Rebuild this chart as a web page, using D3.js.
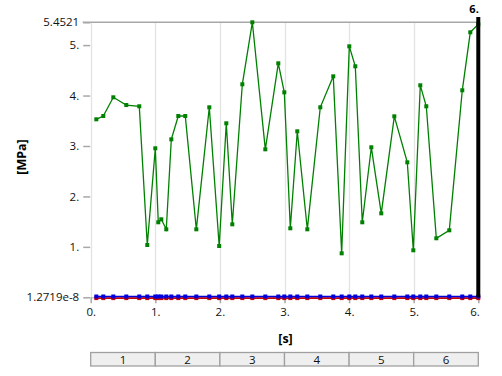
<!DOCTYPE html>
<html>
<head>
<meta charset="utf-8">
<script src="https://cdn.jsdelivr.net/npm/d3@7"></script>
<style>
  body { margin: 0; background: #fff; }
  svg { display: block; font-family: "Open Sans", "Noto Sans", sans-serif; }
</style>
</head>
<body>
<div id="chart"></div>
<script>
(function () {
    // time steps [s]
    const timeVals = [0.087, 0.195, 0.350, 0.551, 0.752, 0.876, 1.000, 1.046, 1.093, 1.170,
        1.248, 1.356, 1.464, 1.635, 1.836, 1.989, 2.099, 2.192, 2.347, 2.502,
        2.703, 2.904, 2.997, 3.090, 3.198, 3.353, 3.554, 3.755, 3.885, 4.003,
        4.096, 4.204, 4.344, 4.498, 4.700, 4.901, 4.994, 5.102, 5.195, 5.350,
        5.551, 5.752, 5.876, 6.000];

    // green series [MPa]
    const greenVals = [3.529, 3.594, 3.965, 3.812, 3.787, 1.037, 2.954, 1.487, 1.546, 1.348,
        3.132, 3.594, 3.594, 1.348, 3.767, 1.017, 3.450, 1.447, 4.223, 5.4521,
        2.934, 4.639, 4.064, 1.368, 3.291, 1.348, 3.767, 4.381, 0.872, 4.976,
        4.580, 1.487, 2.974, 1.665, 3.588, 2.676, 0.932, 4.203, 3.787, 1.170,
        1.328, 4.104, 5.254, 5.412];

    // blue / red series (essentially zero)
    const blueVals = [1.2719e-8, 1.2719e-8, 1.2719e-8, 1.2719e-8, 1.2719e-8, 1.2719e-8, 1.2719e-8, 1.2719e-8, 1.2719e-8, 1.2719e-8,
        1.2719e-8, 1.2719e-8, 1.2719e-8, 1.2719e-8, 1.2719e-8, 1.2719e-8, 1.2719e-8, 1.2719e-8, 1.2719e-8, 1.2719e-8,
        1.2719e-8, 1.2719e-8, 1.2719e-8, 1.2719e-8, 1.2719e-8, 1.2719e-8, 1.2719e-8, 1.2719e-8, 1.2719e-8, 1.2719e-8,
        1.2719e-8, 1.2719e-8, 1.2719e-8, 1.2719e-8, 1.2719e-8, 1.2719e-8, 1.2719e-8, 1.2719e-8, 1.2719e-8, 1.2719e-8,
        1.2719e-8, 1.2719e-8, 1.2719e-8, 1.2719e-8];
    const redVals = [0, 0, 0, 0, 0, 0, 0, 0, 0, 0,
        0, 0, 0, 0, 0, 0, 0, 0, 0, 0,
        0, 0, 0, 0, 0, 0, 0, 0, 0, 0,
        0, 0, 0, 0, 0, 0, 0, 0, 0, 0,
        0, 0, 0, 0];

    // axis ticks
    const xTicks = [0, 1, 2, 3, 4, 5, 6];
    const xTickLabels = ["0.", "1.", "2.", "3.", "4.", "5.", "6."];
    const yTicks = [0, 1, 2, 3, 4, 5, 5.4521];
    const yTickLabels = ["1.2719e-8", "1.", "2.", "3.", "4.", "5.", "5.4521"];
    const stepLabels = ["1", "2", "3", "4", "5", "6"];
    const cursorTime = 6;

    const W = 502, H = 376;
    const plot = { left: 90.7, right: 478.3, top: 22.3, bottom: 297.3 };

    const svg = d3.select("#chart").append("svg")
        .attr("width", W)
        .attr("height", H);

    const x = d3.scaleLinear().domain([0, 6]).range([plot.left, plot.right]);
    const y = d3.scaleLinear().domain([0, 5.4521]).range([plot.bottom, plot.top]);

    // vertical gridlines
    svg.append("g").selectAll("line")
        .data(xTicks.slice(0, -1))
        .enter().append("line")
        .attr("x1", d => Math.round(x(d)) + 0.5).attr("x2", d => Math.round(x(d)) + 0.5)
        .attr("y1", y(5.4521)).attr("y2", plot.bottom)
        .attr("stroke", "#e3e3e3").attr("stroke-width", 1.3);

    // top (max) line
    svg.append("line")
        .attr("x1", plot.left - 8).attr("x2", plot.right)
        .attr("y1", y(5.4521)).attr("y2", y(5.4521))
        .attr("stroke", "#a8a8a8").attr("stroke-width", 1.5);

    // y axis
    const yAxis = svg.append("g")
        .attr("transform", `translate(${plot.left - 0.5},0)`)
        .call(d3.axisLeft(y)
            .tickValues(yTicks)
            .tickFormat((d, i) => yTickLabels[i])
            .tickSize(7)
            .tickPadding(4));
    yAxis.select(".domain").remove();
    yAxis.selectAll(".tick line").attr("stroke", "#a8a8a8").attr("stroke-width", 1.5);
    yAxis.selectAll(".tick text")
        .attr("fill", "#111")
        .style("font-size", "11.5px")
        .style("font-family", "'Open Sans', sans-serif");

    // x axis
    const xAxis = svg.append("g")
        .attr("transform", `translate(0,${plot.bottom})`)
        .call(d3.axisBottom(x)
            .tickValues(xTicks)
            .tickFormat((d, i) => xTickLabels[i])
            .tickSize(6)
            .tickSizeOuter(0)
            .tickPadding(5));
    xAxis.select(".domain").attr("stroke", "#a8a8a8");
    xAxis.selectAll(".tick line").attr("stroke", "#a8a8a8").attr("stroke-width", 1.5);
    xAxis.selectAll(".tick text")
        .attr("fill", "#111")
        .style("font-size", "11.5px")
        .style("font-family", "'Open Sans', sans-serif");
    xAxis.selectAll(".tick text")
        .filter(d => d === 6)
        .attr("text-anchor", "end")
        .attr("dx", 1);

    // axis titles
    svg.append("text")
        .attr("x", (plot.left + plot.right) / 2 + 1)
        .attr("y", 343)
        .attr("text-anchor", "middle")
        .style("font-weight", "bold")
        .style("font-size", "12.5px")
        .text("[s]");

    svg.append("text")
        .attr("transform", `translate(26,157) rotate(-90)`)
        .attr("text-anchor", "middle")
        .style("font-weight", "bold")
        .style("font-size", "12.5px")
        .text("[MPa]");

    // series
    function drawSeries(vals, color, width, size, dy) {
        const pts = timeVals.map((t, i) => [t, vals[i]]);
        const g = svg.append("g").attr("transform", `translate(0,${dy})`);
        g.append("path")
            .datum(pts)
            .attr("fill", "none")
            .attr("stroke", color)
            .attr("stroke-width", width)
            .attr("d", d3.line().x(d => x(d[0])).y(d => y(d[1])));
        g.selectAll("rect")
            .data(pts)
            .enter().append("rect")
            .attr("x", d => x(d[0]) - size / 2)
            .attr("y", d => y(d[1]) - size / 2)
            .attr("width", size)
            .attr("height", size)
            .attr("fill", color);
    }

    drawSeries(redVals, "#cc0000", 1.6, 4, 0.8);
    drawSeries(blueVals, "#0000dd", 1.6, 4, -0.8);
    drawSeries(greenVals, "#008000", 1.3, 4, 0);

    // cursor bar
    svg.append("line")
        .attr("x1", x(cursorTime)).attr("x2", x(cursorTime))
        .attr("y1", 17).attr("y2", plot.bottom)
        .attr("stroke", "#000").attr("stroke-width", 4);
    svg.append("text")
        .attr("x", x(cursorTime) + 0.5)
        .attr("y", 13)
        .attr("text-anchor", "end")
        .style("font-weight", "bold")
        .style("font-size", "11px")
        .text(xTickLabels[xTickLabels.length - 1]);

    // step table
    const table = svg.append("g");
    const cells = table.selectAll("g")
        .data(stepLabels)
        .enter().append("g");
    cells.append("rect")
        .attr("x", (d, i) => x(i))
        .attr("y", 352.5)
        .attr("width", (d, i) => x(i + 1) - x(i))
        .attr("height", 13.5)
        .attr("fill", "#efefef")
        .attr("stroke", "#a0a0a0")
        .attr("stroke-width", 1.3);
    cells.append("text")
        .attr("x", (d, i) => (x(i) + x(i + 1)) / 2)
        .attr("y", 359.5)
        .attr("dy", "0.35em")
        .attr("text-anchor", "middle")
        .attr("fill", "#111")
        .style("font-size", "11.5px")
        .text(d => d);
})();
</script>
</body>
</html>
